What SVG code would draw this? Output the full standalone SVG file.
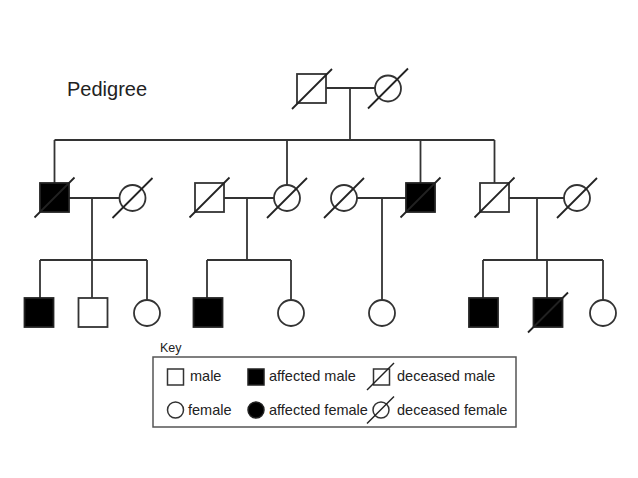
<svg xmlns="http://www.w3.org/2000/svg" width="638" height="478" viewBox="0 0 638 478">
<style>
.ln{stroke:#333;stroke-width:1.8;fill:none}
.m{fill:#fff;stroke:#333;stroke-width:1.8}
.a{fill:#000;stroke:#222;stroke-width:1.8}
.f{fill:#fff;stroke:#333;stroke-width:1.8}
.s{stroke:#222;stroke-width:1.8}
.km{fill:#fff;stroke:#333;stroke-width:1.5}
.ka{fill:#000;stroke:#222;stroke-width:1.5}
.ks{stroke:#222;stroke-width:1.5}
text{font-family:"Liberation Sans",Arial,sans-serif;fill:#222}
.kt{font-size:14.5px}
</style>
<rect width="638" height="478" fill="#fff"/>
<text x="67" y="95.5" font-size="20">Pedigree</text>

<g id="connectors">
<!-- generation 1 -->
<line class="ln" x1="326" y1="88" x2="375" y2="88"/>
<line class="ln" x1="350" y1="88" x2="350" y2="140"/>
<line class="ln" x1="54.5" y1="140" x2="494.5" y2="140"/>
<line class="ln" x1="54.5" y1="140" x2="54.5" y2="183"/>
<line class="ln" x1="287" y1="140" x2="287" y2="185"/>
<line class="ln" x1="420.5" y1="140" x2="420.5" y2="183"/>
<line class="ln" x1="494.5" y1="140" x2="494.5" y2="183"/>
<!-- generation 2 couples -->
<line class="ln" x1="69" y1="198" x2="119.5" y2="198"/>
<line class="ln" x1="92" y1="198" x2="92" y2="260"/>
<line class="ln" x1="224" y1="198" x2="274" y2="198"/>
<line class="ln" x1="247" y1="198" x2="247" y2="260"/>
<line class="ln" x1="357" y1="198" x2="406" y2="198"/>
<line class="ln" x1="382" y1="198" x2="382" y2="300"/>
<line class="ln" x1="509" y1="198" x2="564" y2="198"/>
<line class="ln" x1="537" y1="198" x2="537" y2="260"/>
<!-- generation 3 sibships -->
<line class="ln" x1="40" y1="260" x2="147" y2="260"/>
<line class="ln" x1="40" y1="260" x2="40" y2="298"/>
<line class="ln" x1="92" y1="260" x2="92" y2="298"/>
<line class="ln" x1="147" y1="260" x2="147" y2="300"/>
<line class="ln" x1="207" y1="260" x2="291" y2="260"/>
<line class="ln" x1="207" y1="260" x2="207" y2="298"/>
<line class="ln" x1="291" y1="260" x2="291" y2="300"/>
<line class="ln" x1="483" y1="260" x2="603" y2="260"/>
<line class="ln" x1="483" y1="260" x2="483" y2="298"/>
<line class="ln" x1="547" y1="260" x2="547" y2="298"/>
<line class="ln" x1="603" y1="260" x2="603" y2="300"/>
</g>

<!-- Generation 1 -->
<g id="g1-male"><rect class="m" x="297" y="74" width="29" height="29"/><line class="s" x1="292" y1="109" x2="332" y2="69"/></g>
<g id="g1-female"><circle class="f" cx="388" cy="88.5" r="13"/><line class="s" x1="368" y1="108.5" x2="408" y2="68.5"/></g>

<!-- Generation 2 -->
<g id="g2-m1"><rect class="a" x="40" y="183" width="29" height="29"/><line class="s" x1="34.5" y1="217.5" x2="74.5" y2="177.5"/></g>
<g id="g2-f1"><circle class="f" cx="132.5" cy="198" r="13"/><line class="s" x1="112.5" y1="218" x2="152.5" y2="178"/></g>
<g id="g2-m2"><rect class="m" x="195" y="183" width="29" height="29"/><line class="s" x1="189.5" y1="217.5" x2="229.5" y2="177.5"/></g>
<g id="g2-f2"><circle class="f" cx="287" cy="198" r="13"/><line class="s" x1="267" y1="218" x2="307" y2="178"/></g>
<g id="g2-f3"><circle class="f" cx="344" cy="198" r="13"/><line class="s" x1="324" y1="218" x2="364" y2="178"/></g>
<g id="g2-m3"><rect class="a" x="406" y="183" width="29" height="29"/><line class="s" x1="400.5" y1="217.5" x2="440.5" y2="177.5"/></g>
<g id="g2-m4"><rect class="m" x="480" y="183" width="29" height="29"/><line class="s" x1="474.5" y1="217.5" x2="514.5" y2="177.5"/></g>
<g id="g2-f4"><circle class="f" cx="577" cy="198" r="13"/><line class="s" x1="557" y1="218" x2="597" y2="178"/></g>

<!-- Generation 3 -->
<g id="g3-1"><rect class="a" x="24.5" y="298" width="29" height="29"/></g>
<g id="g3-2"><rect class="m" x="78.5" y="298" width="29" height="29"/></g>
<g id="g3-3"><circle class="f" cx="147" cy="313" r="13"/></g>
<g id="g3-4"><rect class="a" x="193.5" y="298" width="29" height="29"/></g>
<g id="g3-5"><circle class="f" cx="291" cy="313" r="13"/></g>
<g id="g3-6"><circle class="f" cx="382" cy="313" r="13"/></g>
<g id="g3-7"><rect class="a" x="469" y="298" width="29" height="29"/></g>
<g id="g3-8"><rect class="a" x="533.5" y="298" width="29" height="29"/><line class="s" x1="528" y1="332.5" x2="568" y2="292.5"/></g>
<g id="g3-9"><circle class="f" cx="603" cy="313" r="13"/></g>

<!-- Key -->
<g id="key">
<text x="160" y="352" font-size="12.5">Key</text>
<rect x="153" y="357" width="363" height="70" fill="none" stroke="#555" stroke-width="1.5"/>
<rect class="km" x="167.5" y="369" width="16" height="16"/>
<text class="kt" x="190" y="381">male</text>
<rect class="ka" x="248" y="369" width="16" height="16"/>
<text class="kt" x="269" y="381">affected male</text>
<rect class="km" x="373.5" y="369" width="16" height="16"/>
<line class="ks" x1="367" y1="390" x2="394" y2="363"/>
<text class="kt" x="397" y="381">deceased male</text>
<circle class="km" cx="175.5" cy="410" r="8"/>
<text class="kt" x="188" y="415">female</text>
<circle class="ka" cx="256" cy="410" r="8"/>
<text class="kt" x="269" y="415">affected female</text>
<circle class="km" cx="381" cy="410" r="8"/>
<line class="ks" x1="367" y1="423.5" x2="394" y2="396.5"/>
<text class="kt" x="397" y="415">deceased female</text>
</g>
</svg>
